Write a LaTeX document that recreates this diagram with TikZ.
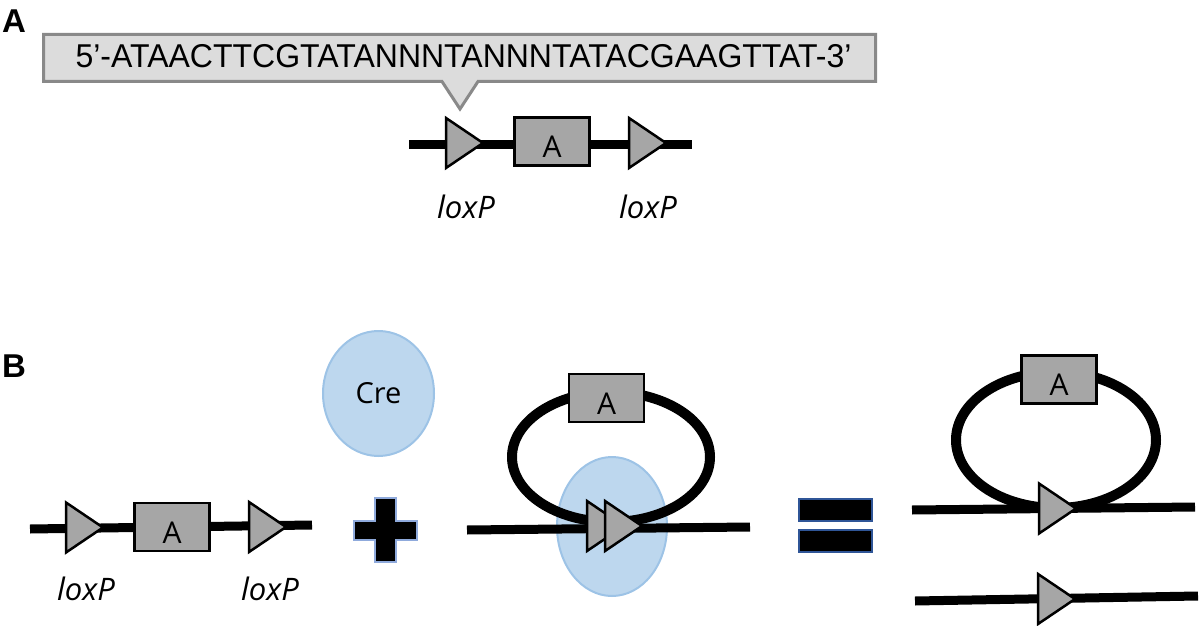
\documentclass[tikz,border=0pt]{standalone}
\usepackage{fontspec}
\newfontfamily\osans{Open Sans}
\newfontfamily\lsans{Liberation Sans}
\usetikzlibrary{shapes.geometric}
\definecolor{genegray}{HTML}{A6A6A6}
\definecolor{calloutfill}{HTML}{DCDCDC}
\definecolor{calloutline}{HTML}{898989}
\definecolor{crefill}{HTML}{BDD7EE}
\definecolor{creline}{HTML}{9DC3E6}
\definecolor{plusline}{HTML}{8FAADC}
\definecolor{eqline}{HTML}{2F5597}
\begin{document}
\begin{tikzpicture}[x=1pt,y=-1pt,
  dna/.style={line width=9pt},
  loopdna/.style={line width=10pt},
  gene/.style={draw, line width=2.5pt, fill=genegray, minimum width=75pt, minimum height=48pt,
    inner sep=0pt, text height=32.5pt, text depth=0pt, font=\osans\fontsize{30}{33}\selectfont},
  loxline/.style={draw=black, fill=genegray, line width=2.5pt, line join=miter},
  lox/.pic={\draw[loxline] (0,-25) -- (37,0) -- (0,25) -- cycle;},
  loxlabel/.style={font=\osans\itshape\fontsize{31}{34}\selectfont, inner sep=0pt},
  panel/.style={font=\lsans\bfseries\fontsize{33}{36}\selectfont, inner sep=0pt},
  cre/.style={ellipse, draw=creline, fill=crefill, line width=2pt, inner sep=0pt},
]
\useasboundingbox (0,0) rectangle (1200,626);

% ---------------- Panel A ----------------
\node[panel] (labA) at (14,21) {A};

\coordinate (c1) at (43.5,34.5);
\coordinate (c2) at (875.5,34.5);
\coordinate (c3) at (875.5,81.5);
\coordinate (c4) at (478,81.5);
\coordinate (ctip) at (460,109);
\coordinate (c5) at (442,81.5);
\coordinate (c6) at (43.5,81.5);
\draw[draw=calloutline, fill=calloutfill, line width=3pt, line join=miter]
  (c1) -- (c2) -- (c3) -- (c4) -- (ctip) -- (c5) -- (c6) -- cycle;
\node[font=\lsans\fontsize{33}{36}\selectfont, inner sep=0pt] (seq) at (463.5,56)
  {\scalebox{0.97}[1]{5’-ATAACTTCGTATANNNTANNNTATACGAAGTTAT-3’}};

\coordinate (aL) at (409,144);
\coordinate (aR) at (692,144);
\draw[dna] (aL) -- (aR);
\node[gene] (gA) at (552,141.5) {A};
\pic at (446,143) {lox};
\pic at (629,143) {lox};
\node[loxlabel] (lxA1) at (466,207) {loxP};
\node[loxlabel] (lxA2) at (648,207) {loxP};

% ---------------- Panel B ----------------
\node[panel] (labB) at (14,366) {B};

% left construct
\coordinate (bL) at (30,529);
\coordinate (bR) at (312,525);
\draw[dna] (bL) -- (bR);
\node[gene] (gB) at (172,527) {A};
\pic at (66,527.5) {lox};
\pic at (249,527) {lox};
\node[loxlabel] (lxB1) at (86,589) {loxP};
\node[loxlabel] (lxB2) at (270,589) {loxP};

% Cre
\node[cre, minimum width=111pt, minimum height=125pt,
  font=\osans\fontsize{29}{32}\selectfont] (cre1) at (378.5,393.5) {Cre};

% plus
\draw[fill=black, draw=plusline, line width=2pt, line join=miter]
  (375,498) -- (396,498) -- (396,521) -- (417,521) -- (417,540) -- (396,540)
  -- (396,562) -- (375,562) -- (375,540) -- (354,540) -- (354,521) -- (375,521) -- cycle;

% middle synapse
\node[cre, minimum width=110pt, minimum height=139pt] (cre2) at (612,526.5) {};
\coordinate (mL) at (467,530);
\coordinate (mR) at (750,527);
\draw[dna] (mL) -- (mR);
\node[draw=none, ellipse, minimum width=198pt, minimum height=130pt, inner sep=0pt] (loopM) at (611,457) {};
\draw[loopdna] (loopM.center) ellipse[x radius=99, y radius=65];
\node[gene] (gM) at (606.5,398) {A};
\pic at (587,526) {lox};
\pic at (605,526) {lox};

% equals
\draw[fill=black, draw=eqline, line width=2.5pt] (799,499) rectangle (872,521);
\draw[fill=black, draw=eqline, line width=2.5pt] (799,530) rectangle (872,552);

% products
\coordinate (rL) at (912,510);
\coordinate (rR) at (1195,507);
\draw[dna] (rL) -- (rR);
\node[draw=none, ellipse, minimum width=200pt, minimum height=136pt, inner sep=0pt] (loopR) at (1056,440) {};
\draw[loopdna] (loopR.center) ellipse[x radius=100, y radius=68];
\node[gene] (gR) at (1059,379.5) {A};
\pic at (1039,508.5) {lox};

\coordinate (sL) at (915,601);
\coordinate (sR) at (1198,596);
\draw[dna] (sL) -- (sR);
\pic at (1038,599) {lox};
\end{tikzpicture}
\end{document}
